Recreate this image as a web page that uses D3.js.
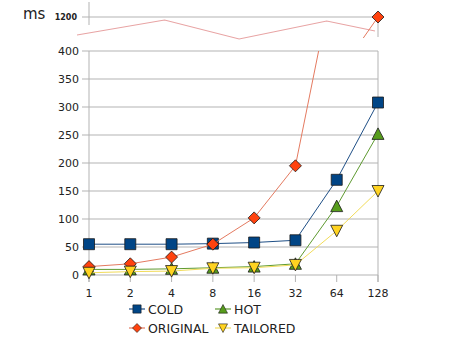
<!DOCTYPE html>
<html><head><meta charset="utf-8">
<script src="https://cdn.jsdelivr.net/npm/d3@7"></script>
<style>html,body{margin:0;padding:0;background:#fff;}svg{display:block;}</style>
</head><body>
<svg id="c" width="474" height="337"></svg>
<script>
const categories = ["1","2","4","8","16","32","64","128"];
const cold     = [55, 55, 55, 56, 58, 62, 170, 308];
const hot      = [10, 10, 11, 13, 15, 20, 123, 252];
const original = [15, 20, 32, 55, 102, 195, 560, 1200];
const tailored = [4, 6, 7, 12, 13, 18, 79, 150];
const mainTicks = [0, 50, 100, 150, 200, 250, 300, 350, 400];
const topTicks = [1200];
const seriesNames = ["COLD", "HOT", "ORIGINAL", "TAILORED"];

const svg = d3.select("#c");
const FONT = "DejaVu Sans, sans-serif";
const grid = "#b3b3b3";

const x = d3.scalePoint().domain(categories).range([89, 378]);
const y = d3.scaleLinear().domain([0, 400]).range([275, 51]);
const yTop = d3.scaleLinear().domain([560, 1200]).range([76, 17]);

const styles = {
  COLD:     {line: "#1f4f86", fill: "#004586", shape: "square"},
  HOT:      {line: "#5e9a30", fill: "#579d1c", shape: "up"},
  ORIGINAL: {line: "#e47a60", fill: "#ff420e", shape: "diamond"},
  TAILORED: {line: "#f2dc5a", fill: "#ffd320", shape: "down"}
};
const data = {COLD: cold, HOT: hot, ORIGINAL: original, TAILORED: tailored};

function markerPath(shape) {
  if (shape === "square") return "M-5.5,-5.5H5.5V5.5H-5.5Z";
  if (shape === "up") return "M0,-6L6,5.5H-6Z";
  if (shape === "down") return "M0,6L6,-5.5H-6Z";
  if (shape === "diamond") return "M0,-6L6,0L0,6L-6,0Z";
}

const defs = svg.append("defs");
defs.append("clipPath").attr("id", "clipMain").append("rect")
  .attr("x", 70).attr("y", y(400)).attr("width", 330).attr("height", 260);
defs.append("clipPath").attr("id", "clipTop").append("rect")
  .attr("x", 70).attr("y", 0).attr("width", 330).attr("height", 38);

const gMain = svg.append("g");
gMain.selectAll("line.h").data(mainTicks).join("line")
  .attr("x1", x("1") - 7).attr("x2", x("128"))
  .attr("y1", d => y(d)).attr("y2", d => y(d))
  .attr("stroke", grid).attr("stroke-width", 1);
gMain.append("line").attr("x1", x("1")).attr("x2", x("1"))
  .attr("y1", y(400)).attr("y2", y(0) + 7).attr("stroke", grid);
gMain.append("line").attr("x1", x("128")).attr("x2", x("128"))
  .attr("y1", y(400)).attr("y2", y(0) + 7).attr("stroke", grid);
gMain.selectAll("line.xt").data(categories).join("line")
  .attr("x1", d => x(d)).attr("x2", d => x(d))
  .attr("y1", y(0)).attr("y2", y(0) + 7).attr("stroke", grid);

gMain.selectAll("text.yl").data(mainTicks).join("text")
  .attr("x", 79).attr("y", d => y(d) + 4)
  .attr("text-anchor", "end").attr("font-family", FONT).attr("font-size", 11)
  .attr("fill", "#222").text(d => d);
gMain.selectAll("text.xl").data(categories).join("text")
  .attr("x", d => x(d)).attr("y", 297)
  .attr("text-anchor", "middle").attr("font-family", FONT).attr("font-size", 11)
  .attr("fill", "#222").text(d => d);

const gTop = svg.append("g");
gTop.selectAll("line.h").data(topTicks).join("line")
  .attr("x1", x("1") - 7).attr("x2", x("128"))
  .attr("y1", d => yTop(d)).attr("y2", d => yTop(d)).attr("stroke", grid);
gTop.append("line").attr("x1", x("1")).attr("x2", x("1"))
  .attr("y1", 2).attr("y2", 25).attr("stroke", grid);
gTop.append("line").attr("x1", x("128")).attr("x2", x("128"))
  .attr("y1", yTop(1200)).attr("y2", 37).attr("stroke", grid);
gTop.selectAll("text.yl").data(topTicks).join("text")
  .attr("x", 77).attr("y", d => yTop(d) + 3)
  .attr("text-anchor", "end").attr("font-family", FONT).attr("font-size", 8)
  .attr("font-weight", "bold").attr("fill", "#222").text(d => d);
svg.append("text").attr("x", 23).attr("y", 19).attr("font-family", FONT)
  .attr("font-size", 15).attr("fill", "#222").text("ms");

// axis-break zigzag (decoration)
const zig = [[x("1") - 12, 35], [x("4") - 7, 20], [x("16") - 15, 39], [x("64") - 10, 21], [x("128") - 3, 31]];
svg.append("path").attr("d", d3.line()(zig)).attr("fill", "none")
  .attr("stroke", "#e8a4a4").attr("stroke-width", 1.2);

function drawSeries(g, scale, clipId, name) {
  const vals = data[name], st = styles[name];
  const pts = categories.map((c, i) => [x(c), scale(vals[i])]);
  const gg = g.append("g").attr("clip-path", `url(#${clipId})`);
  gg.append("path").attr("d", d3.line()(pts)).attr("fill", "none")
    .attr("stroke", st.line).attr("stroke-width", 1);
  gg.selectAll("path.m").data(pts).join("path")
    .attr("transform", d => `translate(${d[0]},${d[1]})`)
    .attr("d", markerPath(st.shape))
    .attr("fill", st.fill).attr("stroke", "#1a1a1a").attr("stroke-width", 0.8);
}
const gs = svg.append("g");
seriesNames.forEach(n => drawSeries(gs, y, "clipMain", n));
drawSeries(svg.append("g"), yTop, "clipTop", "ORIGINAL");

const legPos = [[137, 309], [223, 309], [137, 328], [223, 328]];
seriesNames.forEach((n, i) => {
  const st = styles[n], [lx, ly] = legPos[i];
  const g = svg.append("g");
  g.append("line").attr("x1", lx - 8).attr("x2", lx + 8).attr("y1", ly).attr("y2", ly)
    .attr("stroke", st.line).attr("stroke-width", 1.2);
  g.append("path").attr("transform", `translate(${lx},${ly}) scale(0.75)`)
    .attr("d", markerPath(st.shape)).attr("fill", st.fill)
    .attr("stroke", "#1a1a1a").attr("stroke-width", 0.8);
  g.append("text").attr("x", lx + 11).attr("y", ly + 5).attr("font-family", FONT)
    .attr("font-size", 12.5).attr("fill", "#222").text(n);
});
</script>
</body></html>
